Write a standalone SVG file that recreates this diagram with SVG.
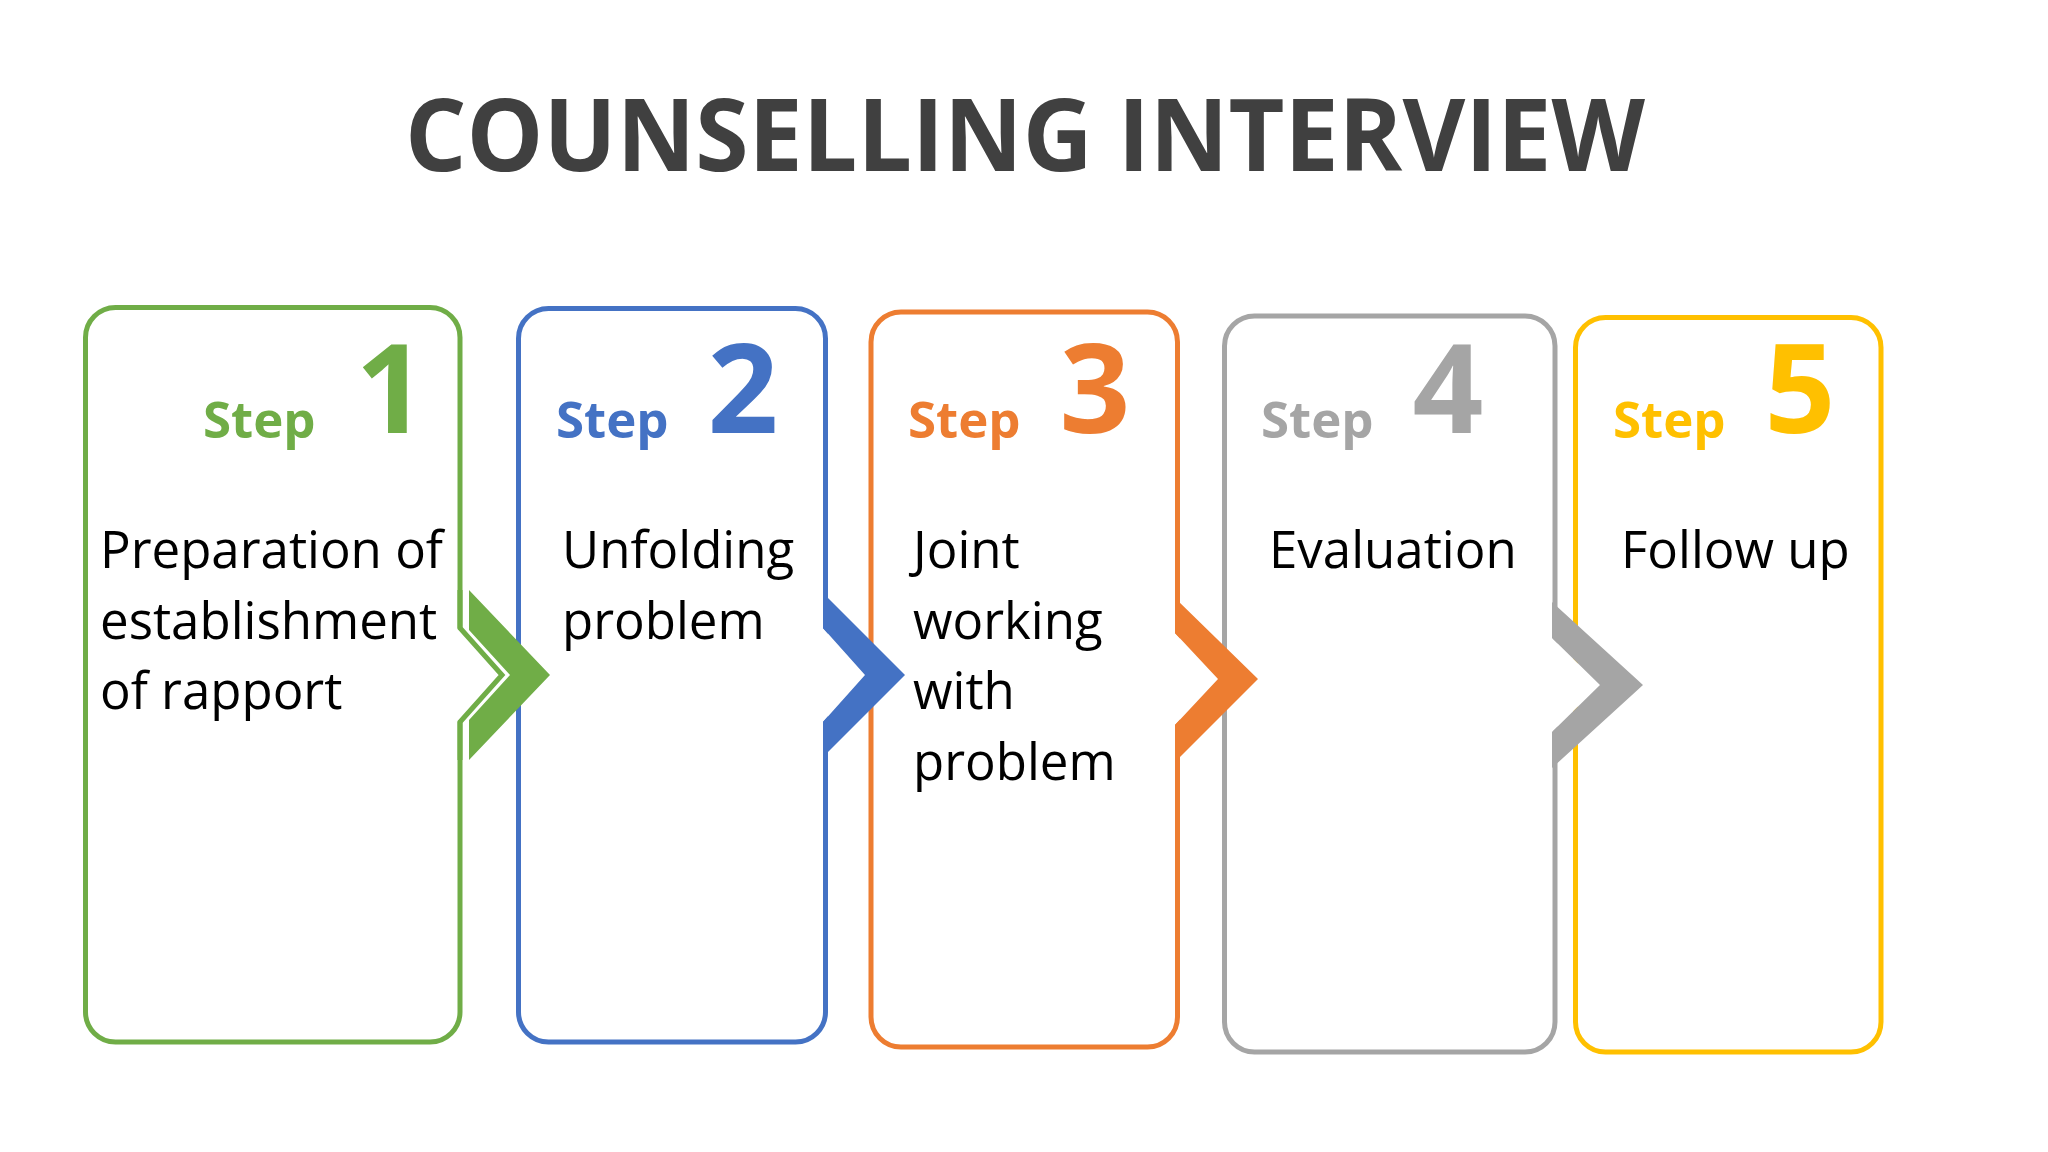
<svg xmlns="http://www.w3.org/2000/svg" width="2048" height="1152" viewBox="0 0 2048 1152">
<style>
.box{fill:#fff;stroke-width:5}
.step{font-family:"Open Sans","Liberation Sans",sans-serif;font-weight:700;font-size:51px}
.num{font-family:"Open Sans","Liberation Sans",sans-serif;font-weight:700;font-size:124px;text-anchor:middle}
.body{font-family:"Open Sans","Liberation Sans",sans-serif;font-size:51px;fill:#000}
.title{font-family:"Open Sans","Liberation Sans",sans-serif;font-weight:700;font-size:100px;fill:#404040;text-anchor:middle}
.cover{fill:#fff}
.g{fill:#70AD47}.b{fill:#4472C4}.o{fill:#ED7D31}.y{fill:#A5A5A5}.k{fill:#FFC000}
</style>
<rect width="2048" height="1152" fill="#fff"/>
<text class="title" x="1025" y="171" textLength="1240" lengthAdjust="spacingAndGlyphs">COUNSELLING INTERVIEW</text>

<g id="step1">
<rect class="box" x="85.5" y="307.5" width="374.5" height="734.5" rx="30" stroke="#70AD47"/>
<text class="step g" x="203" y="438">Step</text>
<text class="num g" x="391" y="433">1</text>
<text class="body" x="100" y="568">Preparation of</text>
<text class="body" x="100" y="639">establishment</text>
<text class="body" x="100" y="709">of rapport</text>
</g>
<g id="step2">
<rect class="box" x="518.5" y="308.5" width="307" height="733.5" rx="30" stroke="#4472C4"/>
<text class="step b" x="556" y="438">Step</text>
<text class="num b" x="743" y="433">2</text>
<text class="body" x="562" y="568">Unfolding</text>
<text class="body" x="562" y="639">problem</text>
</g>
<g id="step3">
<rect class="box" x="871" y="312" width="306.5" height="735" rx="30" stroke="#ED7D31"/>
<text class="step o" x="908" y="438">Step</text>
<text class="num o" x="1095" y="433">3</text>
<text class="body" x="913" y="568">Joint</text>
<text class="body" x="913" y="639">working</text>
<text class="body" x="913" y="709">with</text>
<text class="body" x="913" y="780">problem</text>
</g>
<g id="step4">
<rect class="box" x="1224.5" y="316" width="330.5" height="736" rx="30" stroke="#A5A5A5"/>
<text class="step y" x="1261" y="438">Step</text>
<text class="num y" x="1448" y="433">4</text>
<text class="body" x="1269" y="568">Evaluation</text>
</g>
<g id="step5">
<rect class="box" x="1575.5" y="317.5" width="305.5" height="734.5" rx="30" stroke="#FFC000"/>
<text class="step k" x="1613" y="438">Step</text>
<text class="num k" x="1800" y="433">5</text>
<text class="body" x="1621" y="568">Follow up</text>
</g>

<g id="connectors">
<polygon class="cover" points="455,626 506,675 455,724"/>
<polyline points="460,590 460,628 502,675 460,722 460,760" fill="none" stroke="#70AD47" stroke-width="5"/>
<polygon class="g" points="469,590 550,675 469,760 469,720 510,675 469,630"/>
<polygon class="cover" points="821,626 865,675 821,724"/>
<polygon class="b" points="823,593 905,675 823,757 823,722 865,675 823,628"/>
<polygon class="cover" points="1173,631 1218,679 1173,727"/>
<polygon class="o" points="1175,598 1258,679 1175,762 1175,725 1218,679 1175,633"/>
<polygon class="cover" points="1550,636 1600,685 1550,734"/>
<polygon class="y" points="1552,602 1643,685 1552,768 1552,732 1600,685 1552,638"/>
</g>
</svg>
